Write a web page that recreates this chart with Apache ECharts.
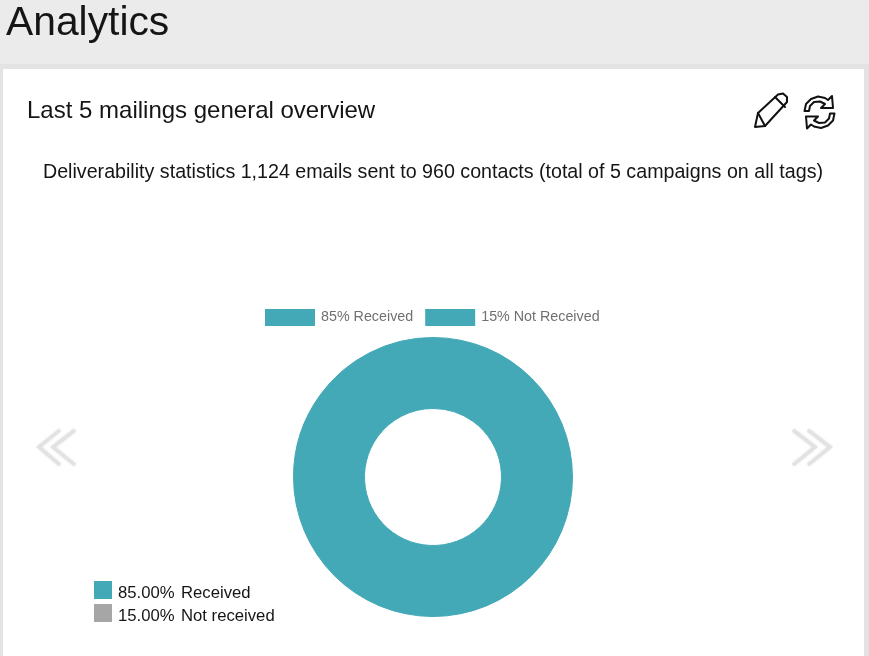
<!DOCTYPE html>
<html>
<head>
<meta charset="utf-8">
<title>Analytics</title>
<script src="https://cdn.jsdelivr.net/npm/echarts@6/dist/echarts.min.js"></script>
<style>
html,body{margin:0;padding:0;width:869px;height:656px;overflow:hidden;background:#ebebeb}
#chart{width:869px;height:656px}
</style>
</head>
<body>
<div id="chart"></div>
<script>
// Deliverability split shown by the doughnut
var sliceLabels = ['85% Received', '15% Not Received'];
var sliceValues = [85, 15];
var summaryLabels = ['85.00%', '15.00%'];
var summaryNames = ['Received', 'Not received'];
var summaryColors = ['#43a9b7', '#a6a6a6'];

var FONT = '"Liberation Sans", Arial, sans-serif';
var TEAL = '#43a9b7';

function label(x, y, text, size, fill, align) {
  return { type: 'text', x: x, y: y, silent: true,
    style: { text: text, font: size + 'px ' + FONT, fill: fill, textAlign: align || 'left', textVerticalAlign: 'middle' } };
}
function chevron(points) {
  return { type: 'polyline', silent: true,
    shape: { points: points },
    style: { stroke: '#e2e2e2', lineWidth: 3.5, fill: null, shadowBlur: 3, shadowColor: '#e6e6e6' } };
}
function outline(type, points, width, fill) {
  return { type: type, silent: true,
    shape: { points: points },
    style: { stroke: '#111111', lineWidth: width, fill: fill || null, lineJoin: 'round', lineCap: 'round' } };
}

// upper arrow of the refresh icon; the lower one is the same outline turned half way round
var refreshArrow = [[804.5,111],[806,104],[811,99],[818,96.5],[825,98],[828,100],[832,96],[833,108],[821,108],[825,104],[820,101.5],[814,102],[810,106],[809,111]];
var refreshArrowTurned = refreshArrow.map(function (p) { return [1639 - p[0], 224.5 - p[1]]; });

var graphics = [
  // page chrome
  { type: 'rect', shape: { x: 0, y: 64, width: 869, height: 592 }, style: { fill: '#e3e3e3' }, silent: true },
  { type: 'rect', shape: { x: 3, y: 69, width: 861, height: 587 }, style: { fill: '#ffffff' }, silent: true },
  label(6, 24, 'Analytics', 40.8, '#151515'),
  label(27, 111, 'Last 5 mailings general overview', 24, '#151515'),
  label(433, 173, 'Deliverability statistics 1,124 emails sent to 960 contacts (total of 5 campaigns on all tags)', 19.66, '#151515', 'center'),

  // edit icon
  outline('polygon', [[755,127],[758,113],[778,94.5],[783,93.5],[787,97],[787,102],[765,126]], 2),
  outline('polyline', [[758,113],[765,126]], 2),
  outline('polyline', [[775,97],[785,107]], 2),

  // refresh icon
  outline('polygon', refreshArrow, 2, '#ffffff'),
  outline('polygon', refreshArrowTurned, 2, '#ffffff'),

  // carousel arrows
  chevron([[60, 430], [39, 447], [60, 465]]),
  chevron([[75, 430], [53, 447], [75, 465]]),
  chevron([[793, 430], [815, 447], [793, 465]]),
  chevron([[808, 430], [830, 447], [808, 465]])
];

// summary list below the doughnut
summaryLabels.forEach(function (text, i) {
  var y = 581 + i * 23;
  graphics.push({ type: 'rect', silent: true, shape: { x: 94, y: y, width: 18, height: 18 }, style: { fill: summaryColors[i] } });
  graphics.push(label(118, y + 12, text, 16.7, '#151515'));
  graphics.push(label(181, y + 12, summaryNames[i], 16.7, '#151515'));
});

var chart = echarts.init(document.getElementById('chart'), null, { renderer: 'canvas' });
chart.setOption({
  animation: false,
  backgroundColor: 'transparent',
  legend: {
    left: 265, top: 309,
    itemWidth: 50, itemHeight: 17, itemGap: 12,
    padding: 0,
    icon: 'rect',
    selectedMode: false,
    itemStyle: { color: TEAL, borderWidth: 0 },
    textStyle: { fontFamily: FONT, fontSize: 14.3, color: '#707070', padding: [0, 0, 2, 1] },
    data: sliceLabels
  },
  graphic: graphics,
  series: [{
    type: 'pie',
    center: [433, 477],
    radius: [68.5, 139.5],
    silent: true,
    label: { show: false },
    labelLine: { show: false },
    itemStyle: { color: TEAL, borderColor: TEAL, borderWidth: 1 },
    data: sliceLabels.map(function (name, i) { return { name: name, value: sliceValues[i] }; })
  }]
});
</script>
</body>
</html>
